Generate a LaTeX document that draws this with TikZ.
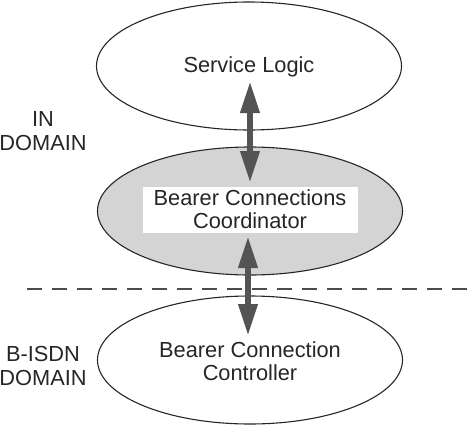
\documentclass[tikz,border=0pt]{standalone}
\usepackage{fontspec}
\setmainfont{Liberation Sans}
\usetikzlibrary{arrows.meta,shapes.geometric}
\definecolor{arrgray}{gray}{0.33}
\definecolor{fillgray}{gray}{0.83}
\tikzset{
  oval/.style={draw=black!85, line width=1.1pt, ellipse, minimum width=305pt, minimum height=128pt, inner sep=0pt},
  lbl/.style={font=\fontsize{21.8pt}{23.5pt}\selectfont, text=black!85, align=center},
  biarrow/.style={draw=arrgray, line width=6.5pt, {Triangle[width=18pt,length=32pt]}-{Triangle[width=18pt,length=32pt]}, shorten <=0pt, shorten >=0pt},
  dashline/.style={draw=black!70, line width=2.2pt, dash pattern=on 15pt off 10pt}
}
\begin{document}
\begin{tikzpicture}[x=1pt,y=-1pt]
\useasboundingbox (0,0) rectangle (474,426);
\node[oval] (sl) at (249,66) {};
\node[lbl] (sltext) at (249,67) {Service Logic};
\node[oval, fill=fillgray] (bcc) at (250,211) {};
\node[fill=white, minimum width=215pt, minimum height=46pt, inner sep=0pt] (wb) at (250.5,210) {};
\node[lbl] (bcctext) at (250,209) {Bearer Connections\\Coordinator};
\node[oval] (ctl) at (250,360) {};
\node[lbl] (ctltext) at (250,361) {Bearer Connection\\Controller};
\coordinate (dl) at (27,289);
\coordinate (dr) at (474,289);
\draw[dashline] (dl) -- (dr);
\coordinate (a1t) at (250,81);
\coordinate (a1b) at (250,183);
\coordinate (a2t) at (248,236);
\coordinate (a2b) at (248,336);
\draw[biarrow] (a1t) -- (a1b);
\draw[biarrow] (a2t) -- (a2b);
\node[lbl] (ind) at (43,131) {IN\\DOMAIN};
\node[lbl] (bisdn) at (43,366) {B-ISDN\\DOMAIN};
\end{tikzpicture}
\end{document}
